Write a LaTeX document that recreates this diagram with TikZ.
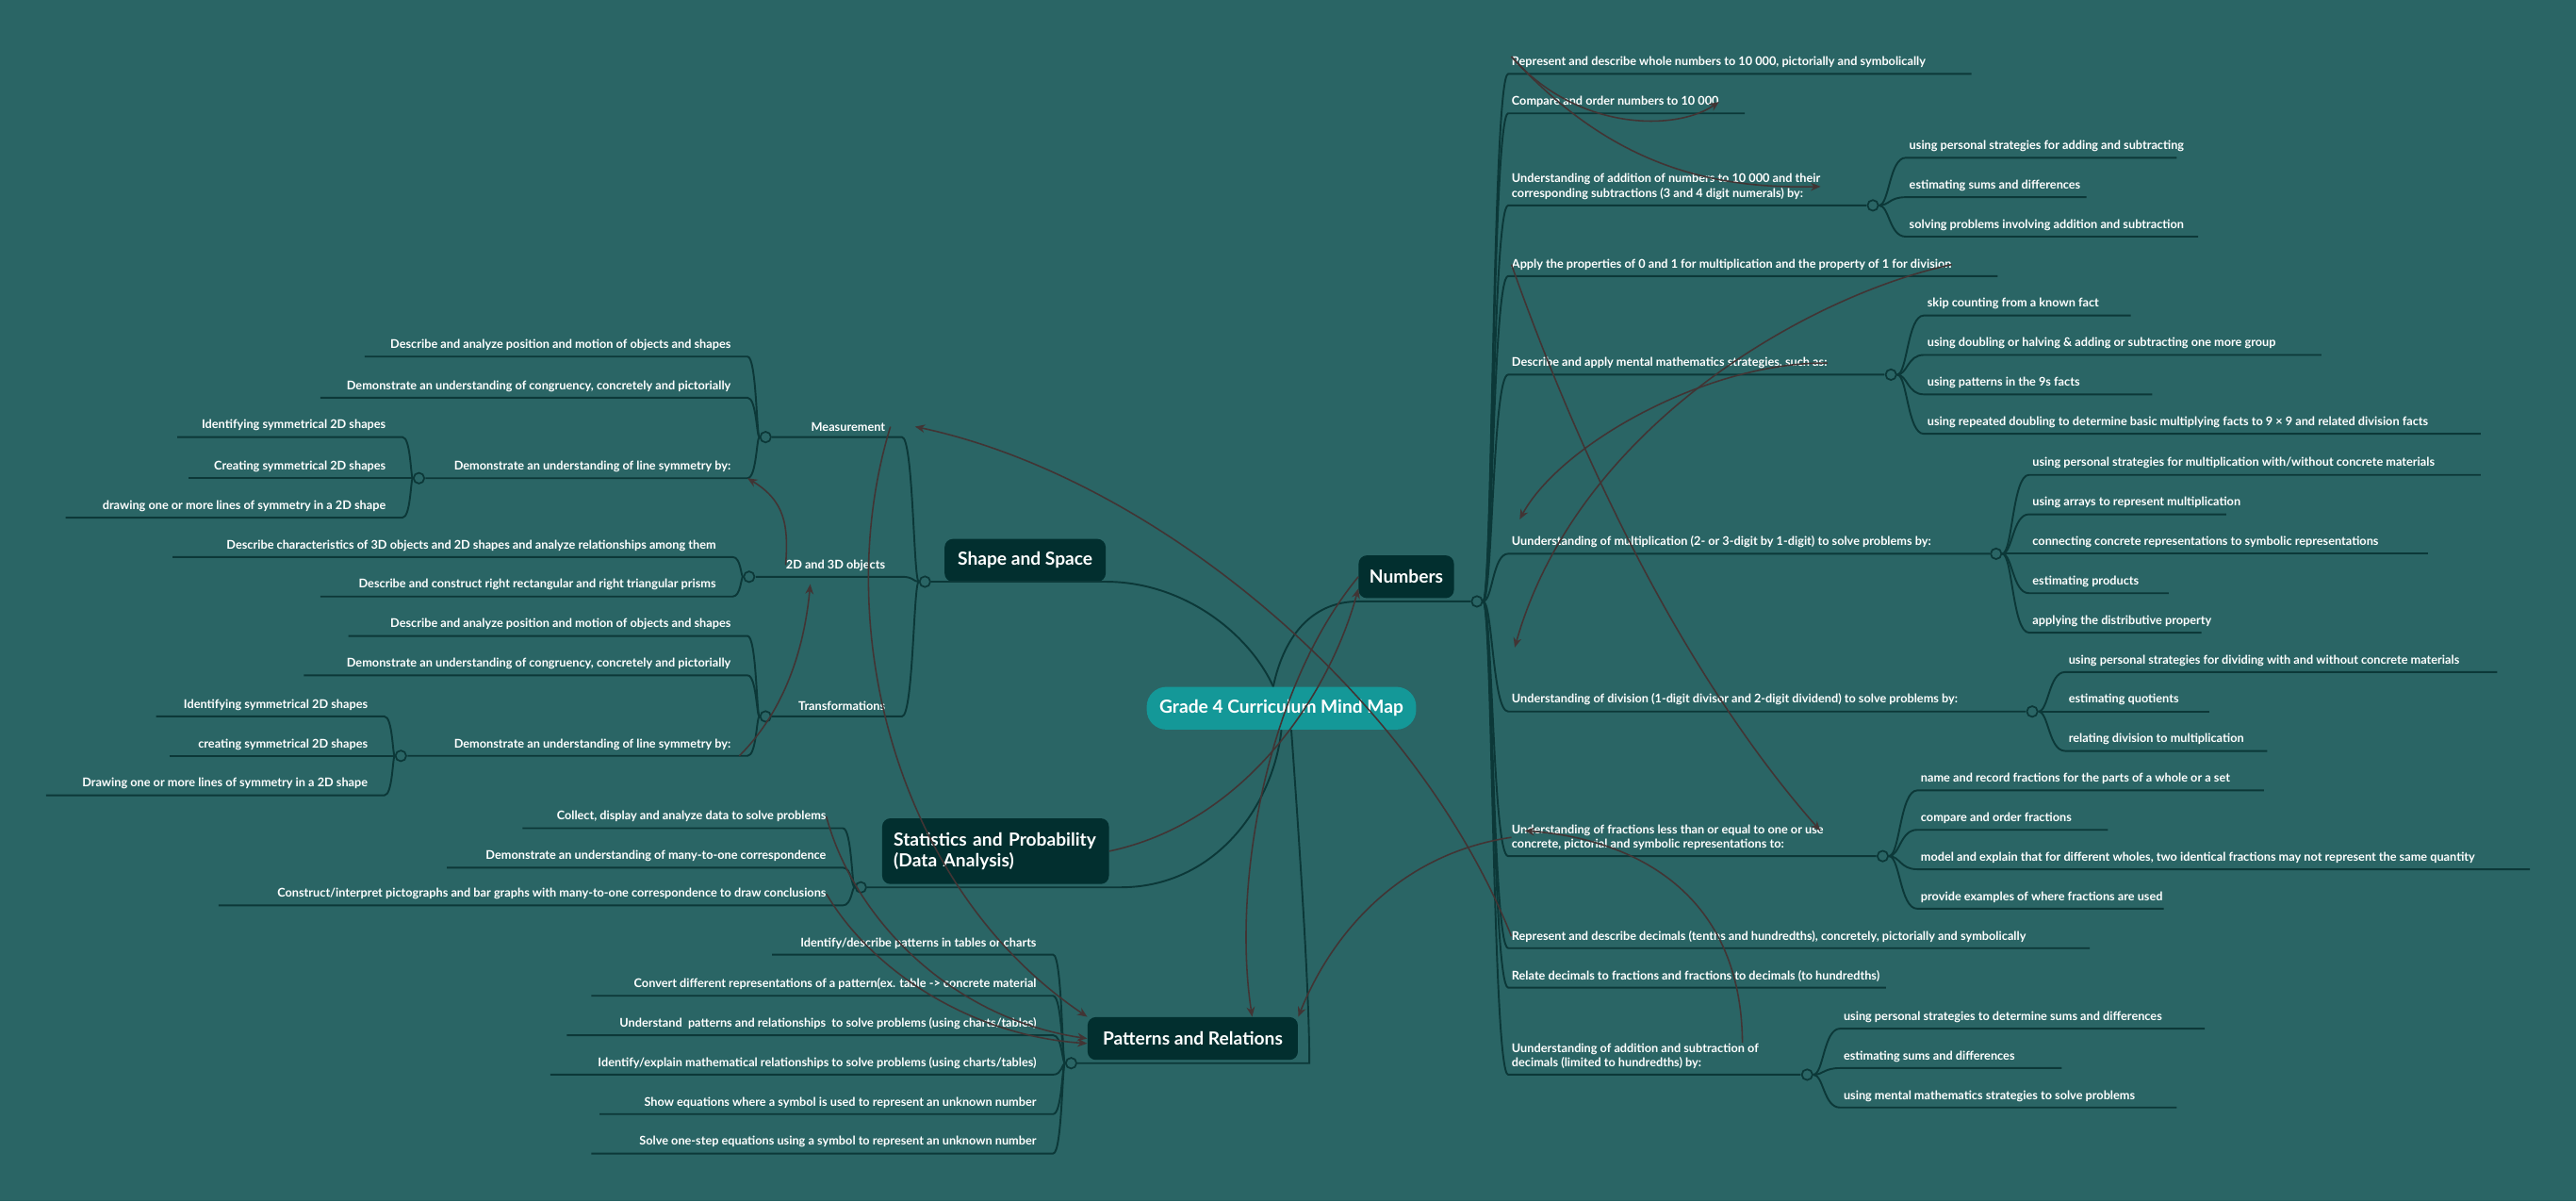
\documentclass[tikz,border=0pt]{standalone}
\usepackage{fontspec}
\setmainfont{Lato}
\usetikzlibrary{arrows.meta,calc}
\definecolor{bg}{HTML}{2A6565}
\definecolor{ln}{HTML}{0C3838}
\definecolor{ar}{HTML}{423434}
\definecolor{ctr}{HTML}{149898}
\definecolor{box}{HTML}{022F2F}
\tikzset{
 conn/.style={draw=ln,line width=1.1pt},
 rel/.style={draw=ar,line width=0.9pt,-{Stealth[length=6pt,width=5pt]}},
 lbl/.style={text=white,font=\fontsize{7.3}{8.8}\selectfont\bfseries,inner sep=0pt,align=left},
 dot/.style={circle,draw=ln,fill=bg,line width=1pt,minimum size=6.5pt,inner sep=0pt},
 topic/.style={rounded corners=5pt,fill=box,text=white,font=\fontsize{11}{13}\selectfont\bfseries,inner sep=0pt,align=left},
}
\newcommand\rleaf[6]{% name parent xs U xe text
 \coordinate (#1s) at (#3,#4); \coordinate (#1e) at (#5,#4);
 \draw[conn] let \p1=(#2),\p2=(#1s) in (#2.east) .. controls ({\x1/2+\x2/2},\y1) and ({\x1/2+\x2/2},\y2) .. (#1s) -- (#1e);
 \node[lbl,anchor=south west] (#1) at ({#3+2},{#4-3.5}) {#6};}
\newcommand\lleaf[6]{% name parent xs U xe text
 \coordinate (#1s) at (#3,#4); \coordinate (#1e) at (#5,#4);
 \draw[conn] let \p1=(#2),\p2=(#1e) in (#1s) -- (#1e) .. controls ({\x1/2+\x2/2},\y2) and ({\x1/2+\x2/2},\y1) .. (#2.west);
 \node[lbl,anchor=south east] (#1) at ({#5-10},{#4-3.5}) {#6};}
\begin{document}
\begin{tikzpicture}[x=1pt,y=-1pt]
\fill[bg] (0,0) rectangle (1568,731);
\useasboundingbox (0,0) rectangle (1568,731);
% center
\node[rounded corners=12pt,fill=ctr,text=white,font=\fontsize{11}{13}\selectfont\bfseries,minimum width=164pt,minimum height=26pt] (C) at (780,431) {Grade 4 Curriculum Mind Map};
% topics
\node[topic,minimum width=58pt,minimum height=26pt,align=center] (N) at (856,351) {Numbers};
\node[topic,minimum width=98pt,minimum height=26pt,align=center] (S) at (624,341) {Shape and Space};
\node[topic,minimum width=138pt,minimum height=40pt,text width=124pt] (P) at (606,518) {Statistics and Probability\\(Data Analysis)};
\node[topic,minimum width=128pt,minimum height=26pt,align=center] (R) at (726,632) {Patterns and Relations};
\node[dot] (Nd) at (899,366) {};
\node[dot] (Sd) at (563,354) {};
\node[dot] (Pd) at (524,540) {};
\node[dot] (Rd) at (652,647) {};
\coordinate (Nu) at (827,366); \coordinate (Su) at (673,354); \coordinate (Pu) at (682,540); \coordinate (Ru) at (797,647);
\draw[conn] (C.north) ++(-5,0) coordinate (Ct1) .. controls (782,385) and (800,366) .. (Nu) -- (Nd.west);
\draw[conn] (Sd.east) -- (Su) .. controls (720,354) and (760,385) .. (Ct1);
\draw[conn] (Pd.east) -- (Pu) .. controls (740,540) and (775,490) .. (C.south);
\draw[conn] (Rd.east) -- (Ru) .. controls (797,600) and (790,500) .. ($(C.south)+(6,0)$);
% Numbers
\rleaf{n1}{Nd}{918}{45}{1200}{Represent and describe whole numbers to 10 000, pictorially and symbolically}
\rleaf{n2}{Nd}{918}{69}{1062}{Compare and order numbers to 10 000}
\node[dot] (n3d) at (1140,125) {};
\rleaf{n3}{Nd}{918}{125}{1136}{Understanding of addition of numbers to 10 000 and their\\corresponding subtractions (3 and 4 digit numerals) by:}
\rleaf{n3a}{n3d}{1160}{96}{1325}{using personal strategies for adding and subtracting}
\rleaf{n3b}{n3d}{1160}{120}{1270}{estimating sums and differences}
\rleaf{n3c}{n3d}{1160}{144}{1338}{solving problems involving addition and subtraction}
\rleaf{n4}{Nd}{918}{168}{1216}{Apply the properties of 0 and 1 for multiplication and the property of 1 for division}
\node[dot] (n5d) at (1151,228) {};
\rleaf{n5}{Nd}{918}{228}{1147}{Describe and apply mental mathematics strategies, such as:}
\rleaf{n5a}{n5d}{1171}{192}{1297}{skip counting from a known fact}
\rleaf{n5b}{n5d}{1171}{216}{1413}{using doubling or halving \& adding or subtracting one more group}
\rleaf{n5c}{n5d}{1171}{240}{1310}{using patterns in the 9s facts}
\rleaf{n5e}{n5d}{1171}{264}{1510}{using repeated doubling to determine basic multiplying facts to 9 × 9 and related division facts}
\node[dot] (n6d) at (1215,337) {};
\rleaf{n6}{Nd}{918}{337}{1211}{Uunderstanding of multiplication (2- or 3-digit by 1-digit) to solve problems by:}
\rleaf{n6a}{n6d}{1235}{289}{1510}{using personal strategies for multiplication with/without concrete materials}
\rleaf{n6b}{n6d}{1235}{313}{1355}{using arrays to represent multiplication}
\rleaf{n6c}{n6d}{1235}{337}{1478}{connecting concrete representations to symbolic representations}
\rleaf{n6e}{n6d}{1235}{361}{1320}{estimating products}
\rleaf{n6f}{n6d}{1235}{385}{1340}{applying the distributive property}
\node[dot] (n7d) at (1237,433) {};
\rleaf{n7}{Nd}{918}{433}{1233}{Understanding of division (1-digit divisor and 2-digit dividend) to solve problems by:}
\rleaf{n7a}{n7d}{1257}{409}{1520}{using personal strategies for dividing with and without concrete materials}
\rleaf{n7b}{n7d}{1257}{433}{1345}{estimating quotients}
\rleaf{n7c}{n7d}{1257}{457}{1380}{relating division to multiplication}
\node[dot] (n8d) at (1146,521) {};
\rleaf{n8}{Nd}{918}{521}{1142}{Understanding of fractions less than or equal to one or use\\concrete, pictorial and symbolic representations to:}
\rleaf{n8a}{n8d}{1167}{481}{1378}{name and record fractions for the parts of a whole or a set}
\rleaf{n8b}{n8d}{1167}{505}{1283}{compare and order fractions}
\rleaf{n8c}{n8d}{1167}{529}{1540}{model and explain that for different wholes, two identical fractions may not represent the same quantity}
\rleaf{n8e}{n8d}{1167}{553}{1317}{provide examples of where fractions are used}
\rleaf{n9}{Nd}{918}{577}{1272}{Represent and describe decimals (tenths and hundredths), concretely, pictorially and symbolically}
\rleaf{n10}{Nd}{918}{601}{1148}{Relate decimals to fractions and fractions to decimals (to hundredths)}
\node[dot] (n11d) at (1100,654) {};
\rleaf{n11}{Nd}{918}{654}{1096}{Uunderstanding of addition and subtraction of\\decimals (limited to hundredths) by:}
\rleaf{n11a}{n11d}{1120}{626}{1342}{using personal strategies to determine sums and differences}
\rleaf{n11b}{n11d}{1120}{650}{1255}{estimating sums and differences}
\rleaf{n11c}{n11d}{1120}{674}{1325}{using mental mathematics strategies to solve problems}
% Shape and Space
\node[dot] (Md) at (466,266) {};
\node[dot] (Od) at (456,351) {};
\node[dot] (Td) at (466,436) {};
\lleaf{s1}{Sd}{470}{266}{549}{Measurement}
\lleaf{s2}{Sd}{460}{351}{549}{2D and 3D objects}
\lleaf{s3}{Sd}{470}{436}{549}{Transformations}
\node[dot] (L1d) at (255,291) {};
\lleaf{m1}{Md}{222}{217}{455}{Describe and analyze position and motion of objects and shapes}
\lleaf{m2}{Md}{195}{242}{455}{Demonstrate an understanding of congruency, concretely and pictorially}
\lleaf{m3}{Md}{259}{291}{455}{Demonstrate an understanding of line symmetry by:}
\lleaf{l1}{L1d}{108}{266}{245}{Identifying symmetrical 2D shapes}
\lleaf{l2}{L1d}{115}{291}{245}{Creating symmetrical 2D shapes}
\lleaf{l3}{L1d}{40}{315}{245}{drawing one or more lines of symmetry in a 2D shape}
\lleaf{o1}{Od}{105}{339}{446}{Describe characteristics of 3D objects and 2D shapes and analyze relationships among them}
\lleaf{o2}{Od}{195}{363}{446}{Describe and construct right rectangular and right triangular prisms}
\node[dot] (L2d) at (244,460) {};
\lleaf{t1}{Td}{212}{387}{455}{Describe and analyze position and motion of objects and shapes}
\lleaf{t2}{Td}{185}{411}{455}{Demonstrate an understanding of congruency, concretely and pictorially}
\lleaf{t3}{Td}{248}{460}{455}{Demonstrate an understanding of line symmetry by:}
\lleaf{k1}{L2d}{95}{436}{234}{Identifying symmetrical 2D shapes}
\lleaf{k2}{L2d}{103}{460}{234}{creating symmetrical 2D shapes}
\lleaf{k3}{L2d}{28}{484}{234}{Drawing one or more lines of symmetry in a 2D shape}
% Statistics
\lleaf{p1}{Pd}{318}{504}{513}{Collect, display and analyze data to solve problems}
\lleaf{p2}{Pd}{272}{528}{513}{Demonstrate an understanding of many-to-one correspondence}
\lleaf{p3}{Pd}{133}{551}{513}{Construct/interpret pictographs and bar graphs with many-to-one correspondence to draw conclusions}
% Patterns
\lleaf{r1}{Rd}{470}{581}{641}{Identify/describe patterns in tables or charts}
\lleaf{r2}{Rd}{360}{606}{641}{Convert different representations of a pattern(ex. table -> concrete material}
\lleaf{r3}{Rd}{345}{630}{641}{Understand\ \ patterns and relationships\ \ to solve problems (using charts/tables)}
\lleaf{r4}{Rd}{335}{654}{641}{Identify/explain mathematical relationships to solve problems (using charts/tables)}
\lleaf{r5}{Rd}{365}{678}{641}{Show equations where a symbol is used to represent an unknown number}
\lleaf{r6}{Rd}{360}{702}{641}{Solve one-step equations using a symbol to represent an unknown number}
% relationships
\draw[rel] (n1.north west) .. controls (960,80) and (1020,80) .. (n2.east);
\draw[rel] (n1.north west) .. controls (980,100) and (1040,115) .. (n3.east);
\draw[rel] (n4.west) .. controls (980,330) and (1050,440) .. ($(n8.north east)+(-2,4)$);
\draw[rel] (n4.east) .. controls (1100,180) and (960,260) .. ($(n7.north west)+(2,-28)$);
\draw[rel] (n5.east) .. controls (1040,220) and (950,270) .. ($(n6.north west)+(5,-10)$);
\draw[rel] (n8.west) .. controls (850,520) and (810,570) .. (R.north east);
\draw[rel] ($(n11.north east)+(-10,0)$) .. controls (1060,540) and (990,510) .. ($(n8.west)+(8,-4)$);
\draw[rel] (n9.west) .. controls (860,420) and (700,290) .. ($(s1.east)+(18,0)$);
\draw[rel] (P.east) .. controls (760,500) and (810,420) .. ($(N.south west)+(0,-6)$);
\draw[rel] (N.west) .. controls (770,420) and (750,540) .. ($(R.north east)+(-28,0)$);
\draw[rel] ($(s1.east)+(3,0)$) .. controls (505,380) and (545,540) .. (R.north west);
\draw[rel] (p1.east) .. controls (520,560) and (580,620) .. (R.west);
\draw[rel] (p3.east) .. controls (530,590) and (590,630) .. ($(R.west)+(0,3)$);
\draw[rel] (s2.west) .. controls (480,320) and (478,305) .. (m3e);
\draw[rel] ($(t3e)+(-5,0)$) .. controls (480,430) and (490,390) .. ($(s2.south west)+(15,8)$);
\end{tikzpicture}
\end{document}
